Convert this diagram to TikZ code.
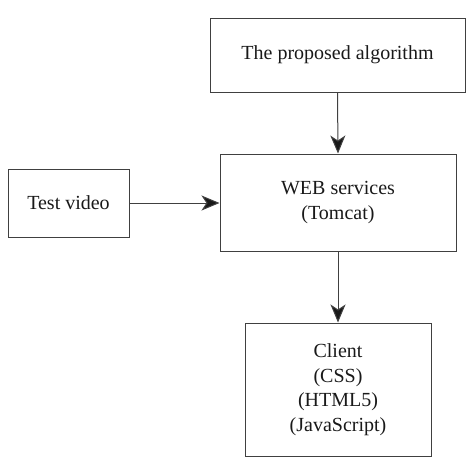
\documentclass[tikz,border=0pt]{standalone}
\usepackage{fontspec}
\setmainfont{Liberation Serif}
\usepackage{tikz}
\usetikzlibrary{positioning, arrows.meta}
\tikzset{
	box/.style={draw=black!75, line width=1pt, align=center, text=black!90, inner sep=0pt,
		font=\fontsize{20}{24.5}\selectfont},
	every edge/.style={draw=black!75, line width=1pt, -{Stealth[length=18pt,width=15pt,inset=5pt,fill=black!90]}}
}

\begin{document}
\begin{tikzpicture}[x=1pt,y=-1pt]
\useasboundingbox (0,0) rectangle (474,474);
\node (algo) [box,minimum width=255pt,minimum height=74pt] at (337.5,55) {The proposed algorithm};
\node (web) [box,minimum width=236pt,minimum height=97pt] at (338,202.5) {WEB services\\(Tomcat)};
\node (video) [box,minimum width=121pt,minimum height=68pt] at (68.5,203) {Test video};
\node (client) [box,minimum width=186pt,minimum height=133pt] at (338,389.5) {Client\\(CSS)\\(HTML5)\\(JavaScript)};
\draw (algo.south) edge (web.north);
\draw (video.east) edge (video.east -| web.west);
\draw (web.south) edge (client.north);
\end{tikzpicture}
\end{document}
